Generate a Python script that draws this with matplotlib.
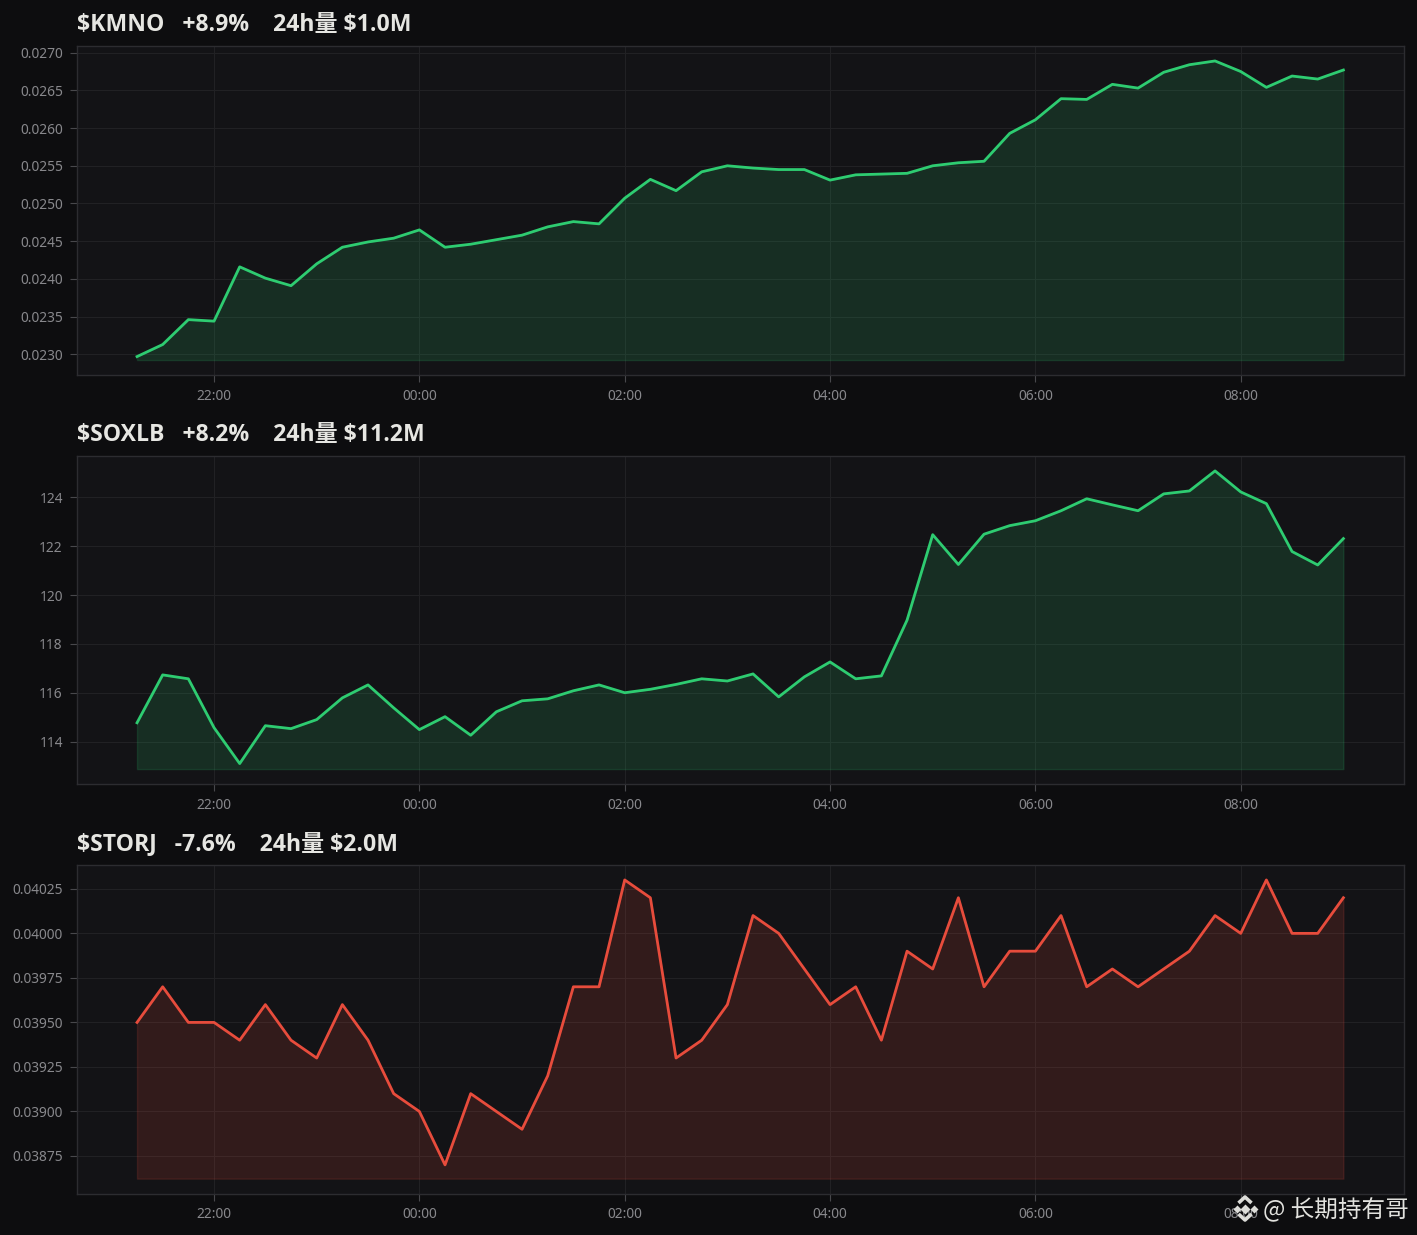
import matplotlib
matplotlib.use("Agg")
import matplotlib.pyplot as plt
import matplotlib.dates as mdates
from matplotlib.ticker import FormatStrFormatter
import pandas as pd

FONT = ['Open Sans', 'Noto Sans CJK SC', 'DejaVu Sans']
plt.rcParams['font.family'] = ['Noto Sans', 'Noto Sans CJK SC', 'DejaVu Sans']

times = pd.date_range('2025-01-01 21:15', '2025-01-02 09:00', freq='15min')

kmno = [0.02297, 0.02313, 0.02346, 0.02344, 0.02416, 0.02401, 0.02391, 0.02420,
        0.02442, 0.02449, 0.02454, 0.02465, 0.02442, 0.02446, 0.02452, 0.02458,
        0.02469, 0.02476, 0.02473, 0.02507, 0.02532, 0.02517, 0.02542, 0.02550,
        0.02547, 0.02545, 0.02545, 0.02531, 0.02538, 0.02539, 0.02540, 0.02550,
        0.02554, 0.02556, 0.02593, 0.02611, 0.02639, 0.02638, 0.02658, 0.02653,
        0.02674, 0.02684, 0.02689, 0.02675, 0.02654, 0.02669, 0.02665, 0.02677]
soxlb = [114.77, 116.73, 116.57, 114.57, 113.10, 114.65, 114.53, 114.90,
         115.79, 116.32, 115.38, 114.49, 115.02, 114.26, 115.22, 115.67,
         115.75, 116.08, 116.32, 116.00, 116.14, 116.34, 116.57, 116.48,
         116.77, 115.83, 116.65, 117.26, 116.57, 116.69, 118.97, 122.47,
         121.25, 122.49, 122.84, 123.04, 123.45, 123.94, 123.69, 123.45,
         124.14, 124.26, 125.08, 124.22, 123.74, 121.78, 121.23, 122.31]
storj = [0.0395, 0.0397, 0.0395, 0.0395, 0.0394, 0.0396, 0.0394, 0.0393,
         0.0396, 0.0394, 0.0391, 0.0390, 0.0387, 0.0391, 0.0390, 0.0389,
         0.0392, 0.0397, 0.0397, 0.0403, 0.0402, 0.0393, 0.0394, 0.0396,
         0.0401, 0.0400, 0.0398, 0.0396, 0.0397, 0.0394, 0.0399, 0.0398,
         0.0402, 0.0397, 0.0399, 0.0399, 0.0401, 0.0397, 0.0398, 0.0397,
         0.0398, 0.0399, 0.0401, 0.0400, 0.0403, 0.0400, 0.0400, 0.0402]

series = [kmno, soxlb, storj]
titles = ['$KMNO   +8.9%    24h量 $1.0M',
          '$SOXLB   +8.2%    24h量 $11.2M',
          '$STORJ   -7.6%    24h量 $2.0M']
colors = ['#2ecc71', '#2ecc71', '#e74c3c']
formats = ['%.4f', '%.0f', '%.5f']

W, H = 1417, 1235
BG, PANEL, SPINE, GRID = '#0d0d0f', '#131316', '#2c2c30', '#212124'
tops = [46, 456, 865]
heights = [329, 328, 328.6]

fig = plt.figure(figsize=(W / 100, H / 100), dpi=100, facecolor=BG)
for vals, title, c, fmt, top, PH in zip(series, titles, colors, formats, tops, heights):
    ax = fig.add_axes([76.7 / W, 1 - (top + PH) / H, 1327 / W, PH / H], facecolor=PANEL)
    ax.set_axisbelow(True)
    ax.grid(True, color=GRID, lw=0.8)
    base = min(vals) * 0.998
    ax.fill_between(times, vals, base, color=c, alpha=0.15, lw=1)
    ax.plot(times, vals, color=c, lw=2)
    ax.xaxis.set_major_locator(mdates.HourLocator(byhour=range(0, 24, 2)))
    ax.xaxis.set_major_formatter(mdates.DateFormatter('%H:%M'))
    ax.yaxis.set_major_formatter(FormatStrFormatter(fmt))
    ax.tick_params(colors='#48484c', labelcolor='#88888c', labelsize=9.9, length=5, width=0.8, pad=5)
    for s in ax.spines.values():
        s.set_color(SPINE)
        s.set_linewidth(1)
    fig.text(77 / W, 1 - (top - 15) / H, title, color='#e6e6e2', fontsize=16.6,
             fontweight='bold', ha='left', va='baseline', family=FONT, parse_math=False)

# watermark
def px(x, y):
    return x / W, 1 - y / H
logo = '#dcdcd8'
for pts in [[(1238.5, 1203), (1245, 1197), (1251.5, 1203)],
            [(1238.5, 1214), (1245, 1220), (1251.5, 1214)]]:
    xs, ys = zip(*[px(*p) for p in pts])
    fig.add_artist(plt.Line2D(xs, ys, lw=2.6, color=logo, solid_capstyle='butt',
                              transform=fig.transFigure))
for x, y, ms in [(1236.5, 1208.5, 4.2), (1253.5, 1208.5, 4.2), (1245, 1208.5, 5)]:
    fx, fy = px(x, y)
    fig.add_artist(plt.Line2D([fx], [fy], marker='D', ms=ms, color=logo, mec='none',
                              transform=fig.transFigure))
fig.text(*px(1263, 1217), '@ 长期持有哥', color='#e2e2de', fontsize=17, ha='left', va='baseline',
         family=['Noto Sans CJK SC', 'DejaVu Sans'])

fig.savefig('out.png', dpi=100, facecolor=BG)
